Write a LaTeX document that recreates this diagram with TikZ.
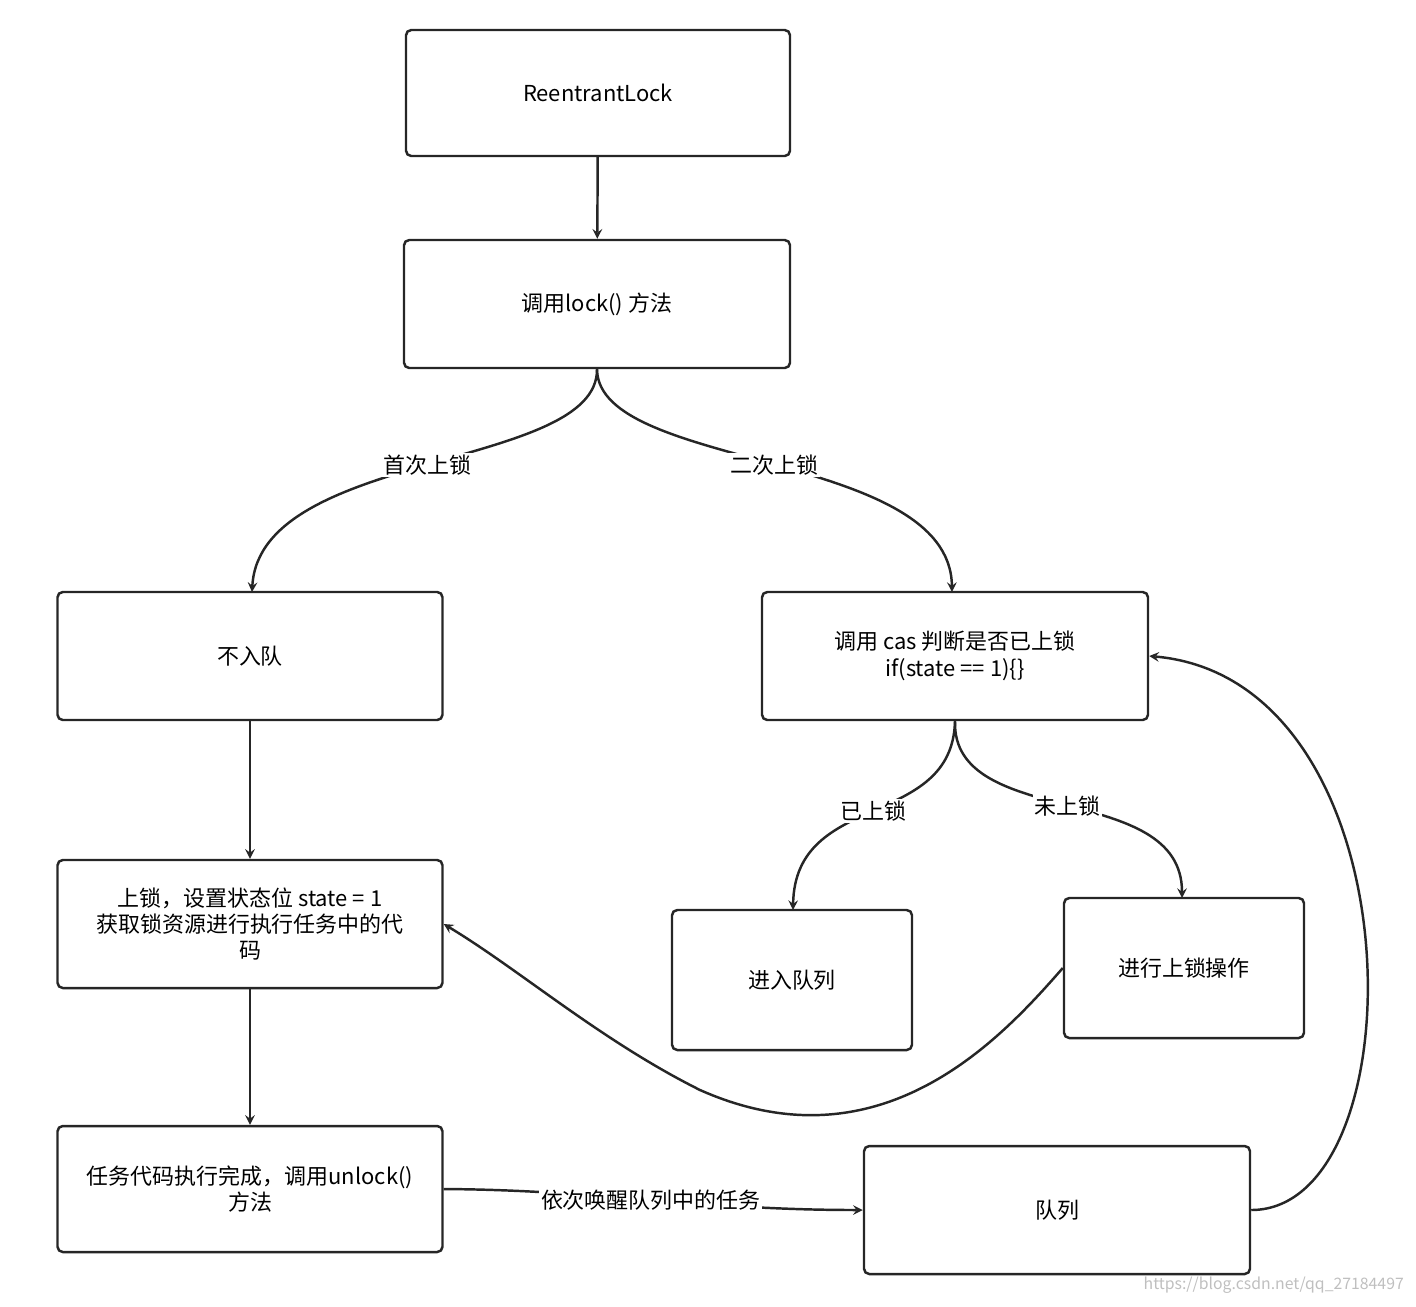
\documentclass[tikz,border=0pt]{standalone}
\usepackage{fontspec}
\setmainfont{Noto Sans CJK SC}
\begin{document}
\begin{tikzpicture}[x=0.02cm,y=-0.02cm,
  box/.style={draw=black!85,line width=1.4pt,rounded corners=3pt,inner sep=0pt,align=center,font=\fontsize{12.5}{15}\selectfont},
  arr/.style={draw=black!85,line width=1.4pt,-stealth},
  lbl/.style={fill=white,inner sep=1pt,font=\fontsize{12.5}{15}\selectfont}]
\useasboundingbox (0,0) rectangle (1416,1306);
\node[box,minimum width=384*0.02cm,minimum height=126*0.02cm] (a) at (598,93) {ReentrantLock};
\node[box,minimum width=386*0.02cm,minimum height=128*0.02cm] (b) at (597,304) {调用lock() 方法};
\node[box,minimum width=385*0.02cm,minimum height=128*0.02cm] (c) at (250,656) {不入队};
\node[box,minimum width=386*0.02cm,minimum height=128*0.02cm] (d) at (955,656) {调用 cas 判断是否已上锁\\if(state == 1)\{\}};
\node[box,minimum width=385*0.02cm,minimum height=128*0.02cm] (e) at (250,924) {上锁，设置状态位 state = 1\\获取锁资源进行执行任务中的代\\码};
\node[box,minimum width=240*0.02cm,minimum height=140*0.02cm] (f) at (792,980) {进入队列};
\node[box,minimum width=240*0.02cm,minimum height=140*0.02cm] (g) at (1184,968) {进行上锁操作};
\node[box,minimum width=385*0.02cm,minimum height=126*0.02cm] (h) at (250,1189) {任务代码执行完成，调用unlock()\\方法};
\node[box,minimum width=386*0.02cm,minimum height=128*0.02cm] (i) at (1057,1210) {队列};

\draw[arr] (a) -- (b);
\draw[arr] (b.south) .. controls (598,470) and (260,450) .. node[lbl,pos=0.5] {首次上锁} (252,592);
\draw[arr] (b.south) .. controls (598,470) and (950,450) .. node[lbl,pos=0.5] {二次上锁} (952,592);
\draw[arr] (c) -- (e);
\draw[arr] (e) -- (h);
\draw[arr] (d.south) .. controls (952,830) and (795,790) .. node[lbl,pos=0.5] {已上锁} (793,910);
\draw[arr] (d.south) .. controls (952,830) and (1182,780) .. node[lbl,pos=0.5] {未上锁} (1182,898);
\draw[arr] (g.west) .. controls (1000,1040) and (880,1170) .. (700,1090) .. controls (600,1040) and (520,970) .. (e.east);
\draw[arr] (h.east) .. controls (600,1190) and (700,1210) .. node[lbl,pos=0.5] {依次唤醒队列中的任务} (i.west);
\draw[arr] (i.east) .. controls (1420,1210) and (1420,680) .. (d.east);
\node[text=black!25,font=\fontsize{9}{10}\selectfont,anchor=south east] (w) at (1410,1300) {https://blog.csdn.net/qq\_27184497};
\end{tikzpicture}
\end{document}
